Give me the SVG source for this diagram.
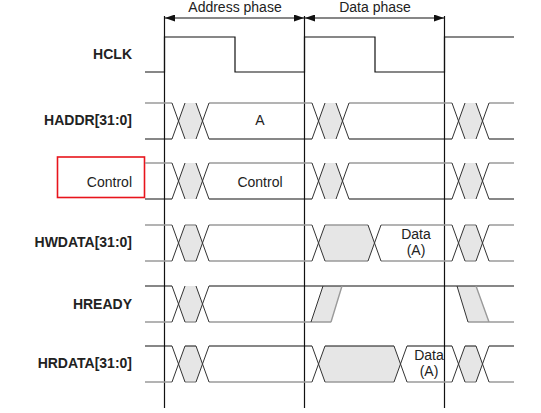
<svg xmlns="http://www.w3.org/2000/svg" width="541" height="413" viewBox="0 0 541 413">
<style>
.lbl{font-family:"Liberation Sans",Arial,sans-serif;font-size:14px;font-weight:bold;fill:#222;text-anchor:end}
.txt{font-family:"Liberation Sans",Arial,sans-serif;font-size:14px;fill:#222;text-anchor:middle}
.k{stroke:#111;stroke-width:1.2;fill:none}
.g{stroke:#9a9a9a;stroke-width:1.4;fill:none}
.d{stroke:#333;stroke-width:1;fill:none}
.f{fill:#e6e6e6;stroke:none}
</style>
<defs>
<marker id="ah" viewBox="0 0 10 7" refX="10" refY="3.5" markerWidth="10" markerHeight="7" markerUnits="userSpaceOnUse" orient="auto-start-reverse">
<path d="M0,0 L10,3.5 L0,7 Z" fill="#111"/>
</marker>
</defs>
<rect width="541" height="413" fill="#fff"/>

<g id="connectors">
<line class="k" x1="164.5" y1="16" x2="164.5" y2="408"/>
<line class="k" x1="304.5" y1="16" x2="304.5" y2="408"/>
<line class="k" x1="444.5" y1="16" x2="444.5" y2="408"/>
<line class="k" x1="165" y1="18" x2="304" y2="18" marker-start="url(#ah)" marker-end="url(#ah)"/>
<line class="k" x1="305" y1="18" x2="444" y2="18" marker-start="url(#ah)" marker-end="url(#ah)"/>
<text class="txt" x="235" y="12">Address phase</text>
<text class="txt" x="375" y="12">Data phase</text>
</g>

<g id="hclk">
<text class="lbl" x="132" y="59">HCLK</text>
<polyline class="k" points="145,72 164.5,72 164.5,37 235,37 235,72 304.5,72 304.5,37 375,37 375,72 444.5,72 444.5,37 514,37"/>
</g>

<g id="haddr">
<text class="lbl" x="132" y="125">HADDR[31:0]</text>
<path class="f" d="M178.5,121 L185,103 L196,103 L202.5,121 L196,139 L185,139 Z M318.5,121 L325,103 L336,103 L342.5,121 L336,139 L325,139 Z M458.5,121 L465,103 L476,103 L482.5,121 L476,139 L465,139 Z"/>
<path class="g" d="M145,103 H172 M209,103 H312 M349,103 H452 M489,103 H514"/>
<path class="k" d="M145,139 H172 M209,139 H312 M349,139 H452 M489,139 H514"/>
<path class="d" d="M172,103 L185,139 M172,139 L185,103 M196,103 L209,139 M196,139 L209,103 M312,103 L325,139 M312,139 L325,103 M336,103 L349,139 M336,139 L349,103 M452,103 L465,139 M452,139 L465,103 M476,103 L489,139 M476,139 L489,103"/>
<text class="txt" x="260" y="125">A</text>
</g>

<g id="control">
<rect x="57.5" y="157" width="87" height="40.5" fill="none" stroke="#e8141c" stroke-width="1.6"/>
<text class="lbl" x="132" y="187" style="font-weight:normal">Control</text>
<path class="f" d="M178.5,181 L185,163 L196,163 L202.5,181 L196,199 L185,199 Z M318.5,181 L325,163 L336,163 L342.5,181 L336,199 L325,199 Z M458.5,181 L465,163 L476,163 L482.5,181 L476,199 L465,199 Z"/>
<path class="g" d="M145,163 H172 M209,163 H312 M349,163 H452 M489,163 H514"/>
<path class="k" d="M145,199 H172 M209,199 H312 M349,199 H452 M489,199 H514"/>
<path class="d" d="M172,163 L185,199 M172,199 L185,163 M196,163 L209,199 M196,199 L209,163 M312,163 L325,199 M312,199 L325,163 M336,163 L349,199 M336,199 L349,163 M452,163 L465,199 M452,199 L465,163 M476,163 L489,199 M476,199 L489,163"/>
<text class="txt" x="260" y="187">Control</text>
</g>

<g id="hwdata">
<text class="lbl" x="132" y="247">HWDATA[31:0]</text>
<path class="f" d="M178.5,243 L185,225 L196,225 L202.5,243 L196,261 L185,261 Z M318.5,243 L325,225 L368,225 L374.5,243 L368,261 L325,261 Z M458.5,243 L465,225 L476,225 L482.5,243 L476,261 L465,261 Z"/>
<path class="g" d="M145,225 H172 M209,225 H312 M381,225 H452 M489,225 H514 M145,261 H172 M209,261 H312 M381,261 H452 M489,261 H514 M325,225 H368 M325,261 H368 M185,225 H196 M185,261 H196 M465,225 H476 M465,261 H476"/>
<path class="d" d="M172,225 L185,261 M172,261 L185,225 M196,225 L209,261 M196,261 L209,225 M312,225 L325,261 M312,261 L325,225 M368,225 L381,261 M368,261 L381,225 M452,225 L465,261 M452,261 L465,225 M476,225 L489,261 M476,261 L489,225"/>
<text class="txt" x="416" y="239">Data</text>
<text class="txt" x="416" y="255">(A)</text>
</g>

<g id="hready">
<text class="lbl" x="132" y="309">HREADY</text>
<path class="f" d="M178.5,304 L185,286 L196,286 L202.5,304 L196,322 L185,322 Z M311,322 L323,286 L342,286 L331,322 Z M457,286 L476,286 L489,322 L468,322 Z"/>
<path class="k" d="M145,286 H172 M209,286 H514"/>
<path class="g" d="M145,322 H172 M209,322 H311 M489,322 H514 M185,322 H196 M311,322 H331 M468,322 H489 M342,286 L331,322 M476,286 L489,322"/>
<path class="d" d="M172,286 L185,322 M172,322 L185,286 M196,286 L209,322 M196,322 L209,286 M311,322 L323,286 M457,286 L468,322"/>
</g>

<g id="hrdata">
<text class="lbl" x="132" y="368">HRDATA[31:0]</text>
<path class="f" d="M178.5,364 L185,346 L196,346 L202.5,364 L196,382 L185,382 Z M318.5,364 L325,346 L394,346 L400.5,364 L394,382 L325,382 Z M458.5,364 L465,346 L476,346 L482.5,364 L476,382 L465,382 Z"/>
<path class="k" d="M145,346 H172 M209,346 H312 M407,346 H452 M489,346 H514 M185,346 H196 M325,346 H394 M465,346 H476"/>
<path class="g" d="M145,382 H172 M209,382 H312 M407,382 H452 M489,382 H514 M185,382 H196 M325,382 H394 M465,382 H476"/>
<path class="d" d="M172,346 L185,382 M172,382 L185,346 M196,346 L209,382 M196,382 L209,346 M312,346 L325,382 M312,382 L325,346 M394,346 L407,382 M394,382 L407,346 M452,346 L465,382 M452,382 L465,346 M476,346 L489,382 M476,382 L489,346"/>
<text class="txt" x="429" y="360">Data</text>
<text class="txt" x="429" y="376">(A)</text>
</g>
</svg>
